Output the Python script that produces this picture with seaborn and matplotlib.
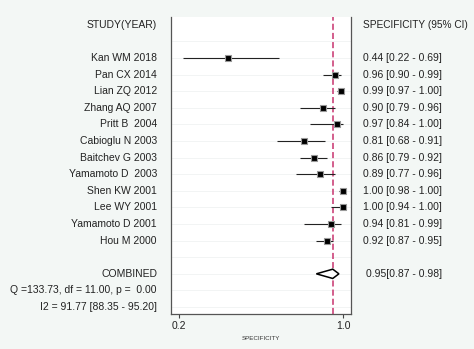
import numpy as np
import pandas as pd
import matplotlib
matplotlib.use("Agg")
import matplotlib.pyplot as plt
import matplotlib.transforms as mtransforms
import seaborn as sns

studies = ["Kan WM 2018", "Pan CX 2014", "Lian ZQ 2012", "Zhang AQ 2007", "Pritt B  2004",
           "Cabioglu N 2003", "Baitchev G 2003", "Yamamoto D  2003", "Shen KW 2001",
           "Lee WY 2001", "Yamamoto D 2001", "Hou M 2000"]
spec = [0.44, 0.96, 0.99, 0.90, 0.97, 0.81, 0.86, 0.89, 1.00, 1.00, 0.94, 0.92]
lo = [0.22, 0.90, 0.97, 0.79, 0.84, 0.68, 0.79, 0.77, 0.98, 0.94, 0.81, 0.87]
hi = [0.69, 0.99, 1.00, 0.96, 1.00, 0.91, 0.92, 0.96, 1.00, 1.00, 0.99, 0.95]
combined = [0.95, 0.87, 0.98]
q_text = "Q =133.73, df = 11.00, p =  0.00"
i2_text = "I2 = 91.77 [88.35 - 95.20]"
xticks = [0.2, 1.0]

sns.set_theme(style="white")
plt.rcParams["font.family"] = ["Liberation Sans", "DejaVu Sans"]

df = pd.DataFrame({"study": studies, "spec": spec, "lo": lo, "hi": hi,
                   "row": np.arange(len(studies))})

fig = plt.figure(figsize=(4.74, 3.49), dpi=100, facecolor="#f3f7f5")
ax = fig.add_axes([171/474, 35/349, 180/474, 297/349])
ax.set_facecolor("white")

# faint row gridlines
for r in range(-1, 16):
    ax.axhline(r, color="#f0f3f2", lw=0.6, zorder=0)

ax.hlines(df["row"], df["lo"], df["hi"], color="#222222", lw=0.8, zorder=2)
sns.scatterplot(data=df, x="spec", y="row", marker="s", s=14, color="black",
                edgecolor="#999999", linewidth=0.8, ax=ax, zorder=3, legend=False)

cy = 13
est, clo, chi = combined
ax.fill([clo, est, chi, est, clo], [cy, cy - 0.28, cy, cy + 0.28, cy],
        facecolor="white", edgecolor="black", lw=1.1, zorder=3)

ax.axvline(est, color="#c8336e", lw=1.1, ls=(0, (4, 2)), zorder=1)

ax.set_xlim(0.2 - 8/205, 1.0 + 8/205)
ax.set_ylim(15.42, -2.47)
ax.set_xticks(xticks)
ax.set_xticklabels([f"{t:.1f}" for t in xticks], fontsize=7.5, color="#222222")
ax.set_yticks([])
ax.set_ylabel("")
ax.tick_params(axis="x", direction="out", length=3, width=0.8, color="#444444", pad=2,
               bottom=True)
ax.set_xlabel("SPECIFICITY", fontsize=4.5, color="#333333", labelpad=4)
for s in ["left", "right", "bottom"]:
    ax.spines[s].set_color("#555555")
    ax.spines[s].set_linewidth(0.9)
ax.spines["top"].set_visible(False)

tr = mtransforms.blended_transform_factory(fig.transFigure, ax.transData)
fs = 7.5
tc = "#222222"
lx = 157/474
rx = 363/474
ax.text(lx, -2, "STUDY(YEAR)", transform=tr, ha="right", va="center", fontsize=fs, color=tc)
ax.text(rx, -2, "SPECIFICITY (95% CI)", transform=tr, ha="left", va="center", fontsize=7.3, color=tc)
for i, r in df.iterrows():
    ax.text(lx, r["row"], r["study"], transform=tr, ha="right", va="center", fontsize=fs, color=tc)
    ax.text(rx, r["row"], f"{r['spec']:.2f} [{r['lo']:.2f} - {r['hi']:.2f}]", transform=tr,
            ha="left", va="center", fontsize=fs, color=tc)
ax.text(lx, cy, "COMBINED", transform=tr, ha="right", va="center", fontsize=fs, color=tc)
ax.text(366/474, cy, f"{est:.2f}[{clo:.2f} - {chi:.2f}]", transform=tr, ha="left",
        va="center", fontsize=fs, color=tc)
ax.text(lx, 14, q_text, transform=tr, ha="right", va="center", fontsize=fs, color=tc)
ax.text(lx, 15, i2_text, transform=tr, ha="right", va="center", fontsize=fs, color=tc)

fig.savefig("out.png", dpi=100, facecolor=fig.get_facecolor())
